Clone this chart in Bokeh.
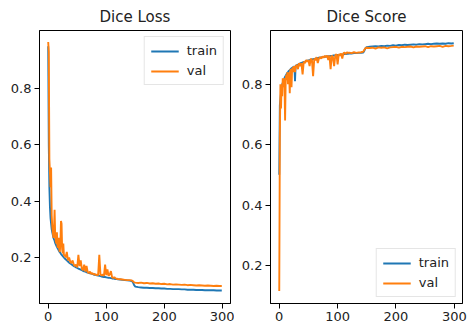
from bokeh.plotting import figure
from bokeh.layouts import row
from bokeh.models import Range1d, FixedTicker, Legend, LegendItem
from bokeh.embed import file_html
from bokeh.resources import INLINE

epochs = [0, 1, 2, 3, 4, 5, 6, 7, 8, 9, 10, 11, 12, 13, 14, 15, 16, 17, 18, 19,
          20, 21, 22, 23, 24, 25, 26, 27, 28, 29, 30, 32, 34, 36, 38, 40, 42, 44, 46, 48,
          50, 52, 54, 56, 58, 60, 62, 64, 66, 68, 70, 72, 74, 76, 78, 80, 82, 84, 86, 88,
          90, 92, 94, 96, 98, 100, 102, 104, 106, 108, 110, 112, 114, 116, 118, 120,
          124, 128, 132, 136, 140, 144, 146, 148, 150, 155, 160, 165, 170, 175, 180, 185,
          190, 195, 200, 205, 210, 215, 220, 225, 230, 235, 240, 245, 250, 255, 260, 265,
          270, 275, 280, 285, 290, 295, 299]

train_loss = [0.95, 0.60, 0.45, 0.38, 0.34, 0.32, 0.30, 0.29, 0.28, 0.27,
              0.265, 0.26, 0.252, 0.247, 0.242, 0.238, 0.234, 0.23, 0.226, 0.222,
              0.219, 0.216, 0.213, 0.21, 0.208, 0.205, 0.203, 0.20, 0.198, 0.196,
              0.194, 0.19, 0.186, 0.182, 0.179, 0.176, 0.173, 0.17, 0.168, 0.165,
              0.163, 0.161, 0.159, 0.157, 0.155, 0.153, 0.151, 0.15, 0.148, 0.147,
              0.145, 0.144, 0.143, 0.142, 0.14, 0.139, 0.138, 0.137, 0.136, 0.135,
              0.134, 0.133, 0.132, 0.131, 0.131, 0.13, 0.129, 0.128, 0.128, 0.127,
              0.126, 0.126, 0.125, 0.124, 0.124, 0.123,
              0.122, 0.121, 0.12, 0.119, 0.118, 0.117, 0.112, 0.102, 0.097, 0.095,
              0.094, 0.093, 0.093, 0.092, 0.092, 0.091, 0.091, 0.090, 0.090, 0.089,
              0.089, 0.088, 0.088, 0.088, 0.087, 0.087, 0.086, 0.086, 0.086, 0.085,
              0.085, 0.085, 0.084, 0.084, 0.084, 0.084, 0.083, 0.083, 0.083]

val_loss = [0.965, 0.93, 0.55, 0.50, 0.45, 0.52, 0.35, 0.31, 0.29, 0.27,
            0.30, 0.37, 0.28, 0.26, 0.25, 0.29, 0.24, 0.235, 0.27, 0.23,
            0.22, 0.25, 0.33, 0.32, 0.23, 0.215, 0.25, 0.21, 0.205, 0.21,
            0.20, 0.22, 0.19, 0.20, 0.185, 0.18, 0.19, 0.175, 0.17, 0.175,
            0.165, 0.21, 0.17, 0.19, 0.16, 0.155, 0.175, 0.15, 0.17, 0.148,
            0.145, 0.15, 0.142, 0.145, 0.14, 0.142, 0.138, 0.14, 0.137, 0.21,
            0.14, 0.136, 0.14, 0.135, 0.175, 0.138, 0.158, 0.135, 0.14, 0.152,
            0.13, 0.128, 0.13, 0.126, 0.125, 0.124,
            0.123, 0.122, 0.121, 0.12, 0.12, 0.119, 0.116, 0.112, 0.111, 0.110,
            0.111, 0.109, 0.110, 0.108, 0.109, 0.107, 0.108, 0.106, 0.107, 0.105,
            0.106, 0.104, 0.105, 0.104, 0.103, 0.104, 0.102, 0.103, 0.102, 0.101,
            0.102, 0.101, 0.100, 0.101, 0.100, 0.099, 0.100, 0.099, 0.099]

train_score = [0.50, 0.73, 0.75, 0.77, 0.785, 0.80, 0.805, 0.81, 0.815, 0.82,
               0.825, 0.828, 0.832, 0.835, 0.838, 0.84, 0.843, 0.845, 0.847, 0.849,
               0.851, 0.853, 0.854, 0.856, 0.857, 0.858, 0.859, 0.81, 0.86, 0.862,
               0.863, 0.865, 0.867, 0.869, 0.871, 0.872, 0.874, 0.875, 0.877, 0.878,
               0.879, 0.88, 0.881, 0.882, 0.883, 0.884, 0.885, 0.886, 0.887, 0.888,
               0.888, 0.889, 0.89, 0.89, 0.891, 0.892, 0.892, 0.893, 0.893, 0.894,
               0.894, 0.895, 0.895, 0.896, 0.896, 0.897, 0.897, 0.898, 0.898, 0.899,
               0.899, 0.90, 0.90, 0.901, 0.901, 0.902,
               0.902, 0.903, 0.903, 0.904, 0.904, 0.905, 0.912, 0.92, 0.923, 0.924,
               0.925, 0.926, 0.925, 0.927, 0.926, 0.928, 0.927, 0.929, 0.928, 0.930,
               0.929, 0.931, 0.930, 0.931, 0.932, 0.931, 0.933, 0.932, 0.933, 0.934,
               0.933, 0.934, 0.935, 0.934, 0.935, 0.934, 0.936, 0.935, 0.936]

val_score = [0.115, 0.62, 0.80, 0.72, 0.80, 0.76, 0.82, 0.79, 0.82, 0.80,
             0.68, 0.81, 0.83, 0.82, 0.84, 0.80, 0.84, 0.83, 0.77, 0.85,
             0.845, 0.79, 0.85, 0.855, 0.84, 0.86, 0.85, 0.84, 0.86, 0.86,
             0.865, 0.85, 0.87, 0.86, 0.87, 0.833, 0.875, 0.87, 0.88, 0.875,
             0.88, 0.86, 0.885, 0.88, 0.827, 0.885, 0.88, 0.89, 0.87, 0.885,
             0.89, 0.885, 0.892, 0.888, 0.894, 0.89, 0.895, 0.88, 0.895, 0.85,
             0.895, 0.89, 0.86, 0.895, 0.90, 0.866, 0.90, 0.895, 0.902, 0.885,
             0.903, 0.905, 0.90, 0.906, 0.904, 0.905,
             0.903, 0.906, 0.904, 0.905, 0.906, 0.908, 0.915, 0.92, 0.921, 0.92,
             0.921, 0.918, 0.922, 0.921, 0.922, 0.919, 0.922, 0.923, 0.924, 0.921,
             0.924, 0.923, 0.924, 0.925, 0.922, 0.925, 0.924, 0.925, 0.926, 0.923,
             0.926, 0.925, 0.926, 0.927, 0.924, 0.927, 0.926, 0.927, 0.928]

x_ticks = [0, 100, 200, 300]
y_ticks = [0.2, 0.4, 0.6, 0.8]
series_labels = ["train", "val"]
colors = ["#1f77b4", "#ff7f0e"]

FONT = "DejaVu Sans"


def make_fig(title, width, left, right, ys, y_range, legend_loc):
    p = figure(width=width, height=333, output_backend="svg", toolbar_location=None,
               x_range=Range1d(-15, 314), y_range=Range1d(*y_range),
               min_border_left=left, min_border_right=right,
               min_border_top=28, min_border_bottom=30)
    p.title.text = title
    p.title.align = "center"
    p.title.text_font = FONT
    p.title.text_font_size = "15px"
    p.title.text_font_style = "normal"
    p.title.text_color = "#222222"
    p.title.offset = 0
    p.grid.visible = False
    p.outline_line_color = "black"
    p.outline_line_width = 1
    p.outline_line_alpha = 1
    p.background_fill_color = "white"
    p.border_fill_color = "white"
    for ax in (p.xaxis[0], p.yaxis[0]):
        ax.axis_line_color = "black"
        ax.major_tick_line_color = "black"
        ax.major_tick_out = 5
        ax.major_tick_in = 0
        ax.minor_tick_line_color = None
        ax.major_label_text_font = FONT
        ax.major_label_text_font_size = "13px"
        ax.major_label_text_color = "#222222"
        ax.major_label_standoff = 3
    p.xaxis.ticker = FixedTicker(ticks=x_ticks)
    p.yaxis.ticker = FixedTicker(ticks=y_ticks)
    p.yaxis.formatter.use_scientific = False
    renderers = []
    for vals, c in zip(ys, colors):
        r = p.line(epochs, vals, line_color=c, line_width=1.9)
        renderers.append(r)
    legend = Legend(items=[LegendItem(label=l, renderers=[r]) for l, r in zip(series_labels, renderers)],
                    location=legend_loc)
    legend.label_text_font = FONT
    legend.label_text_font_size = "13px"
    legend.label_text_color = "#222222"
    legend.glyph_width = 28
    legend.glyph_height = 14
    legend.label_height = 14
    legend.spacing = 5
    legend.padding = 6
    legend.margin = 6
    legend.label_standoff = 8
    legend.border_line_color = "#cccccc"
    legend.border_line_width = 1
    legend.background_fill_alpha = 0.9
    p.add_layout(legend)
    return p


p1 = make_fig("Dice Loss", 234, 39, 4, [train_loss, val_loss], (0.037, 1.006), "top_right")
p2 = make_fig("Dice Score", 240, 36, 12, [train_score, val_score], (0.074, 0.978), "bottom_right")

layout = row(p1, p2)
open("out.html", "w").write(file_html(layout, INLINE))
